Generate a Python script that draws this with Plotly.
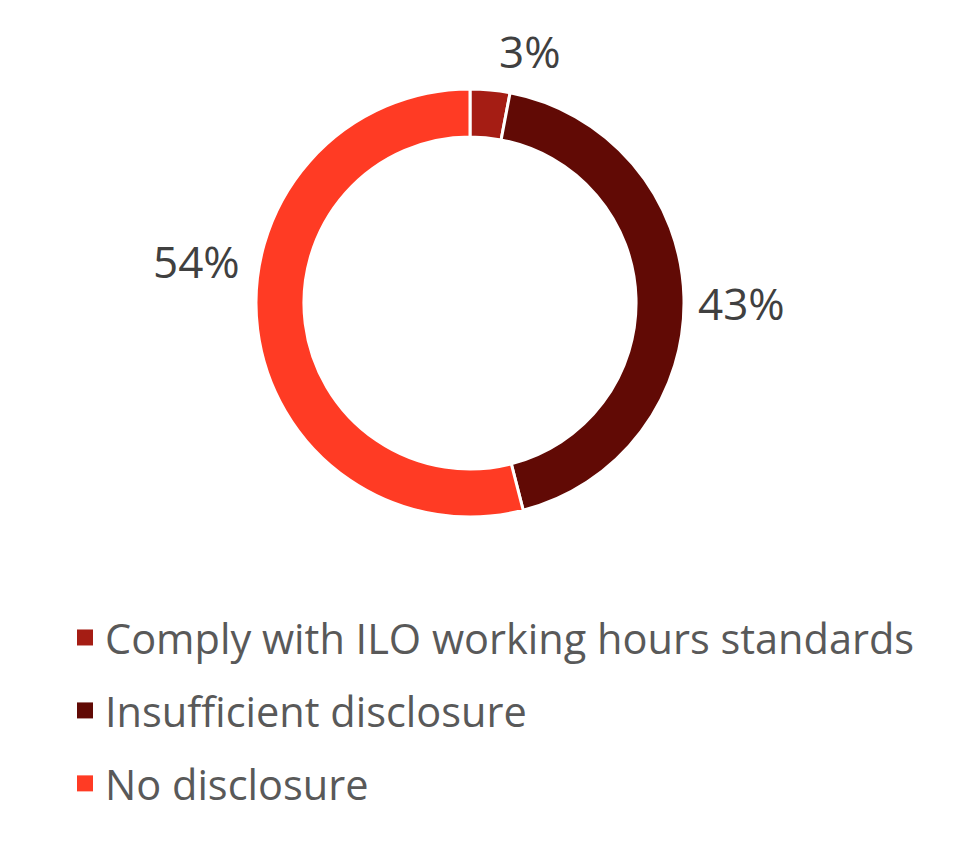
import math
import plotly.graph_objects as go

categories = ["Comply with ILO working hours standards", "Insufficient disclosure", "No disclosure"]
values = [3, 43, 54]
colors = ["#a51d14", "#610a05", "#ff3b24"]

W, H = 960, 848
OFF = 8  # page body margin
cx, cy, r = 470 - OFF, 303 - OFF, 214

fig = go.Figure()
fig.add_trace(go.Pie(
    labels=categories,
    values=values,
    hole=0.776,
    sort=False,
    direction="clockwise",
    rotation=0,
    marker=dict(colors=colors, line=dict(color="white", width=3)),
    textinfo="none",
    showlegend=False,
    domain=dict(x=[(cx - r) / W, (cx + r) / W], y=[1 - (cy + r) / H, 1 - (cy - r) / H]),
    hoverinfo="label+percent",
))

# legend entries (one group each so they can be spaced)
for i, (cat, col) in enumerate(zip(categories, colors)):
    fig.add_trace(go.Scatter(
        x=[None], y=[None], mode="markers", name=cat,
        legendgroup=f"g{i}",
        marker=dict(symbol="square", size=16, color=col),
        hoverinfo="skip",
    ))

# percentage labels placed around the ring from the data
total = sum(values)
start = 0.0
label_shift = 9.8
gap = 14
for v in values:
    mid = start + v / total * 180.0
    start += v / total * 360.0
    a = math.radians(mid + label_shift)
    s, c = math.sin(a), math.cos(a)
    d = r + gap
    px, py = cx + d * s, cy - d * c
    xanchor = "left" if s > 0.5 else ("right" if s < -0.5 else "center")
    yanchor = "bottom" if c > -0.5 else "top"
    fig.add_annotation(
        x=px / W, y=1 - py / H, xref="paper", yref="paper",
        text=f"{round(v / total * 100)}%", showarrow=False,
        xanchor=xanchor, yanchor=yanchor,
        font=dict(size=44, color="#404040", family="Open Sans"),
    )

fig.update_layout(
    width=W, height=H,
    margin=dict(l=0, r=0, t=0, b=0),
    paper_bgcolor="white",
    plot_bgcolor="white",
    xaxis=dict(visible=False),
    yaxis=dict(visible=False),
    showlegend=True,
    legend=dict(
        orientation="v",
        x=57 / W, xanchor="left",
        y=1 - 596 / H, yanchor="top",
        font=dict(size=41.5, color="#595959", family="Open Sans"),
        tracegroupgap=16,
        itemclick=False, itemdoubleclick=False,
    ),
)

fig.write_html("out.html")
